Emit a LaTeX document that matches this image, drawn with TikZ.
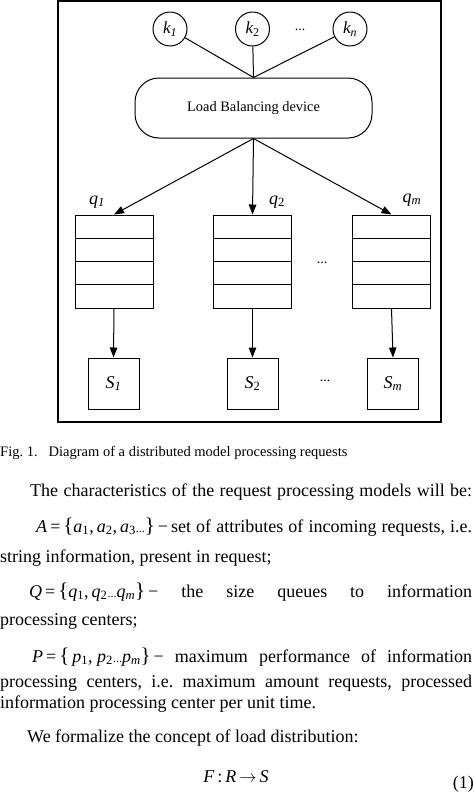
\documentclass[tikz,border=0pt]{standalone}
\usepackage{fontspec}
\setmainfont{Liberation Serif}
\usetikzlibrary{arrows.meta}
\newcommand{\ivar}[2]{\textit{#1\textsubscript{#2}}}
\newcommand{\smalldots}{{\fontsize{12}{12}\selectfont...}}
\newcommand{\setopen}{{\fontsize{21}{21}\selectfont\{}}
\newcommand{\setclose}{{\fontsize{21}{21}\selectfont\}}}
\frenchspacing

\begin{document}
\begin{tikzpicture}[x=1pt, y=-1pt,
  client/.style={draw, circle, line width=1pt, minimum size=34pt, inner sep=0pt,
    font=\fontsize{17}{17}\selectfont},
  balancer/.style={draw, line width=1pt, rounded corners=24pt, minimum width=237pt,
    minimum height=60pt, font=\fontsize{14.4}{16}\selectfont},
  queue/.style={draw, line width=1pt, minimum width=78pt, minimum height=93pt,
    path picture={\foreach \row in {1,2,3}
      \draw[line width=1pt] ([yshift=-\row*23.25pt]path picture bounding box.north west)
        -- ([yshift=-\row*23.25pt]path picture bounding box.north east);}},
  server/.style={draw, line width=1pt, minimum width=51pt, minimum height=51pt,
    font=\fontsize{18}{18}\selectfont},
  link/.style={line width=1pt},
  arrow/.style={-{Triangle[length=10pt,width=7.5pt]}, line width=1pt},
  label/.style={font=\fontsize{18}{18}\selectfont},
  gap/.style={font=\fontsize{14}{14}\selectfont},
  caption/.style={anchor=base west, inner sep=0pt, font=\fontsize{14.5}{16}\selectfont},
  body/.style={anchor=base west, inner sep=0pt, font=\fontsize{18}{20}\selectfont}
]
\fill[white] (0,0) rectangle (474,793);
\useasboundingbox (0,0) rectangle (474,793);

% Frame
\draw[line width=1.3pt] (58,1) rectangle (441,422);

% Clients
\node[client] (k1) at (170,29) {\ivar{k}{1}};
\node[client] (k2) at (252.5,29) {\ivar{k}{\textup{2}}};
\node[client] (kn) at (350,29) {\ivar{k}{n}};
\node[gap] (kdots) at (300,30) {...};

% Balancer
\node[balancer] (lb) at (253.5,108) {Load Balancing device};
\draw[link] (k1) -- (lb.north);
\draw[link] (k2) -- (lb.north);
\draw[link] (kn) -- (lb.north);

% Queues
\node[queue] (q1) at (114,261.5) {};
\node[queue] (q2) at (252.5,261.5) {};
\node[queue] (qm) at (391.5,261.5) {};
\node[label] (q1lab) at (97,202) {\ivar{q}{1}};
\node[label] (q2lab) at (277,202) {\ivar{q}{\textup{2}}};
\node[label] (qmlab) at (412,200) {\ivar{q}{m}};
\node[gap] (qdots) at (322,263) {...};

\draw[arrow] (lb.south) -- (q1.north);
\draw[arrow] (lb.south) -- (q2.north);
\draw[arrow] (lb.south) -- (qm.north);

% Servers
\node[server] (s1) at (113.5,383.5) {\ivar{S}{1}};
\node[server] (s2) at (252.5,383.5) {\ivar{S}{\textup{2}}};
\node[server] (sm) at (393,383.5) {\ivar{S}{m}};
\node[gap] (sdots) at (325,381) {...};

\draw[arrow] (q1.south) -- (s1.north);
\draw[arrow] (q2.south) -- (s2.north);
\draw[arrow] (qm.south) -- (sm.north);

% Caption and text
\node[caption] (cap) at (0,456) {Fig. 1.\hspace{11pt}Diagram of a distributed model processing requests};
\node[body] (t1) at (30,496) {\makebox[442pt][s]{The characteristics of the request processing models will be:}};
\node[body] (t2) at (36,532) {\makebox[436pt][s]{\mbox{\textit{A}\,=\,\setopen\ivar{a}{\textup{1}},\,\ivar{a}{\textup{2}},\,\ivar{a}{\textup{3}}\smalldots\setclose}\,−\,set of attributes of incoming requests, i.e.}};
\node[body] (t3) at (0,562) {string information, present in request;};
\node[body] (t4) at (29,597) {\makebox[443pt][s]{\mbox{\textit{Q}\,=\,\setopen\ivar{q}{\textup{1}},\,\ivar{q}{\textup{2}}\smalldots\ivar{q}{m}\setclose\,−} the size queues to information}};
\node[body] (t5) at (0,625) {processing centers;};
\node[body] (t6) at (32,662) {\makebox[440pt][s]{\mbox{\textit{P}\,=\,\setopen\,\ivar{p}{\textup{1}}, \ivar{p}{\textup{2}}\smalldots\ivar{p}{m}\setclose\,−} maximum performance of information}};
\node[body] (t7) at (0,687) {\makebox[472pt][s]{processing centers, i.e. maximum amount requests, processed}};
\node[body] (t8) at (0,708) {information processing center per unit time.};
\node[body] (t9) at (27,742) {We formalize the concept of load distribution:};
\node[body, anchor=base] (eq) at (236,782) {\textit{F}\,:\,\textit{R}\,$\rightarrow$\,\textit{S}};
\node[body, anchor=base east] (eqno) at (474,788) {(1)};

\end{tikzpicture}
\end{document}
